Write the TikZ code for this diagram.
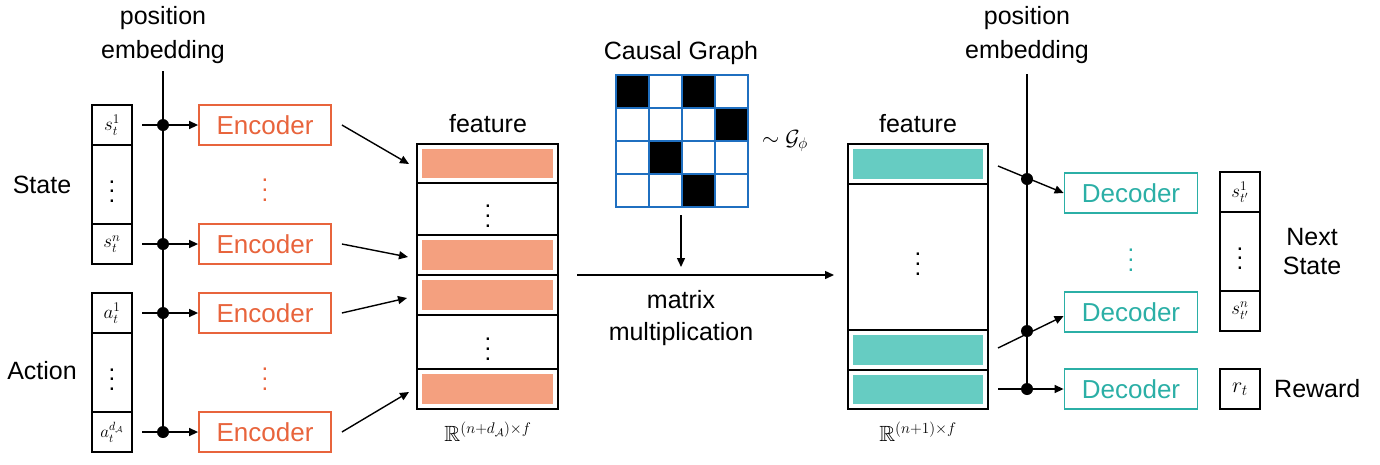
\RequirePackage{fix-cm}
\documentclass[tikz,border=0pt]{standalone}
\usepackage{fontspec}
\usepackage{amssymb}
\usepackage{graphicx}
\setmainfont{Liberation Sans}
\usetikzlibrary{arrows.meta}
\definecolor{enc}{HTML}{E8643C}
\definecolor{encf}{HTML}{F4A07F}
\definecolor{dec}{HTML}{2BAFA6}
\definecolor{decf}{HTML}{66CCC2}
\definecolor{gblue}{HTML}{1F6FC0}
\newcommand{\bigvd}{\scalebox{2.4}{$\vdots$}}
\begin{document}
\begin{tikzpicture}[x=1pt,y=-1pt,
  lbl/.style={font=\fontsize{25}{27}\selectfont,inner sep=0pt},
  encb/.style={draw=enc,line width=1.8pt,text=enc,minimum width=132pt,minimum height=40pt,font=\fontsize{26}{27}\selectfont,inner sep=0pt},
  decb/.style={draw=dec,line width=1.8pt,text=dec,minimum width=133pt,minimum height=40pt,font=\fontsize{26}{27}\selectfont,inner sep=0pt},
  arr/.style={line width=1.4pt,-{Triangle[length=9pt,width=8pt]}},
  dot/.style={circle,fill=black,inner sep=0pt,minimum size=12pt},
  cell/.style={draw,line width=1.6pt,inner sep=0pt,font=\fontsize{19}{19}\selectfont},
  dts/.style={inner sep=0pt}]
\useasboundingbox (0,0) rectangle (1380,464);
% left
\node[lbl] (pe1) at (163,18) {position};
\node[lbl] (pe2) at (163,52) {embedding};
\node[lbl] (state) at (42,185) {State};
\node[lbl] (action) at (42,371) {Action};
\node[cell,minimum width=40pt,minimum height=40pt] (s1) at (112,125) {$s_t^1$};
\node[cell,minimum width=40pt,minimum height=79pt] (sd) at (112,184.5) {};
\node[dts] at (sd) {\bigvd};
\node[cell,minimum width=40pt,minimum height=40pt] (sn) at (112,244) {$s_t^n$};
\node[cell,minimum width=40pt,minimum height=40pt] (a1) at (112,313) {$a_t^1$};
\node[cell,minimum width=40pt,minimum height=79pt] (ad) at (112,372.5) {};
\node[dts] at (ad) {\bigvd};
\node[cell,minimum width=40pt,minimum height=40pt,font=\fontsize{17}{17}\selectfont] (aD) at (112,432) {$a_t^{d_{\mathcal{A}}}$};
\coordinate (vt) at (163,71);
\coordinate (vb) at (163,432);
\draw[line width=1.6pt] (vt) -- (vb);
\foreach \y/\n in {125/e1,244/e2,313/e3,432/e4}{
  \node[encb] (\n) at (265,\y) {Encoder};
  \node[dot] (d\n) at (163,\y) {};
  \coordinate (st\n) at (142,\y);
  \draw[arr] (st\n) -- (\n.west);
}
\node[dts,text=enc] (od1) at (265,183) {\bigvd};
\node[dts,text=enc] (od2) at (265,372) {\bigvd};
% feature left
\node[lbl] (f1) at (488,124) {feature};
\draw[line width=1.8pt] (417,144) rectangle (558,409);
\foreach \y in {183,235,275,315,369} \draw[line width=1.8pt] (417,\y) -- (558,\y);
\foreach \a/\b in {144/183,235/275,275/315,369/409} \fill[encf] (422,\a+5) rectangle (553,\b-5);
\node[dts] at (488,209) {\bigvd};
\node[dts] at (488,342) {\bigvd};
\node[font=\fontsize{22}{22}\selectfont] at (488,432) {$\mathbb{R}^{(n+d_{\mathcal{A}})\times f}$};
\coordinate (t1) at (409,164); \coordinate (t2) at (408,257);
\coordinate (t3) at (407,298); \coordinate (t4) at (409,392);
\draw[arr] ([xshift=10pt]e1.east) -- (t1);
\draw[arr] ([xshift=10pt]e2.east) -- (t2);
\draw[arr] ([xshift=10pt]e3.east) -- (t3);
\draw[arr] ([xshift=10pt]e4.east) -- (t4);
% causal graph
\node[lbl] (cg) at (681,53) {Causal Graph};
\foreach \r in {0,...,3} \foreach \c in {0,...,3}
  \draw[gblue,line width=1.4pt] (616+\c*33,75+\r*33) rectangle ++(33,33);
\foreach \r/\c in {0/0,0/2,1/3,2/1,3/2}
  \draw[gblue,line width=1.4pt,fill=black] (616+\c*33,75+\r*33) rectangle ++(33,33);
\node[font=\fontsize{22}{22}\selectfont] (g) at (785,141) {$\sim\mathcal{G}_\phi$};
\coordinate (gd1) at (681,215); \coordinate (gd2) at (681,267);
\draw[arr] (gd1) -- (gd2);
\coordinate (h1) at (577,275); \coordinate (h2) at (834,275);
\draw[arr] (h1) -- (h2);
\node[lbl] (mm1) at (681,300) {matrix};
\node[lbl] (mm2) at (681,334) {multiplication};
% feature right
\node[lbl] (f2) at (918,124) {feature};
\draw[line width=1.8pt] (848,144) rectangle (988,409);
\foreach \y in {184,330,370} \draw[line width=1.8pt] (848,\y) -- (988,\y);
\foreach \a/\b in {144/184,330/370,370/409} \fill[decf] (853,\a+5) rectangle (983,\b-5);
\node[dts] at (918,257) {\bigvd};
\node[font=\fontsize{22}{22}\selectfont] at (918,432) {$\mathbb{R}^{(n+1)\times f}$};
% right embedding
\node[lbl] (pe3) at (1027,18) {position};
\node[lbl] (pe4) at (1027,52) {embedding};
\coordinate (vt2) at (1027,74); \coordinate (vb2) at (1027,389);
\draw[line width=1.6pt] (vt2) -- (vb2);
\node[decb] (D1) at (1131,193) {Decoder};
\node[decb] (D2) at (1131,312) {Decoder};
\node[decb] (D3) at (1131,389) {Decoder};
\node[dts,text=dec] at (1131,253) {\bigvd};
\node[dot] (q1) at (1027,179) {};
\node[dot] (q2) at (1027,331) {};
\node[dot] (q3) at (1027,389) {};
\coordinate (r1) at (998,166); \coordinate (r2) at (998,348); \coordinate (r3) at (998,389);
\draw[arr] (r1) -- (D1.west);
\draw[arr] (r2) -- ([yshift=-4pt]D2.west);
\draw[arr] (r3) -- (D3.west);
% next state
\node[cell,minimum width=40pt,minimum height=40pt] (n1) at (1240,192) {$s_{t'}^1$};
\node[cell,minimum width=40pt,minimum height=79pt] (nd) at (1240,251.5) {};
\node[dts] at (nd) {\bigvd};
\node[cell,minimum width=40pt,minimum height=40pt] (nn) at (1240,311) {$s_{t'}^n$};
\node[cell,minimum width=40pt,minimum height=40pt,font=\fontsize{22}{22}\selectfont] (rt) at (1240,389) {$r_t$};
\node[lbl,align=center] (ns) at (1312,252) {Next\\[2pt]State};
\node[lbl,anchor=west] (rw) at (1274,389) {Reward};
\end{tikzpicture}
\end{document}
